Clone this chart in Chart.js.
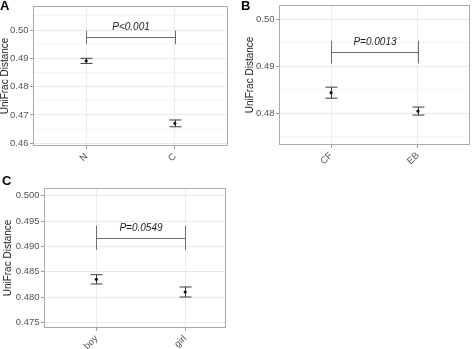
<!DOCTYPE html>
<html>
<head>
<meta charset="utf-8">
<script src="https://cdn.jsdelivr.net/npm/chart.js@4/dist/chart.umd.min.js"></script>
<style>
  html, body { margin: 0; padding: 0; background: #fff; }
  body { width: 474px; height: 349px; position: relative; overflow: hidden;
         font-family: "Liberation Sans", Arial, sans-serif; }
  canvas { position: absolute; }
  .tag { position: absolute; font-weight: bold; font-size: 13px; line-height: 13px; color: #000; z-index: 2; }
</style>
</head>
<body>
<canvas id="panelA" width="232" height="172" style="left:0;top:0"></canvas>
<canvas id="panelB" width="236" height="172" style="left:238px;top:0"></canvas>
<canvas id="panelC" width="232" height="175" style="left:0;top:174px"></canvas>
<div class="tag" style="left:0;top:-1px">A</div>
<div class="tag" style="left:241px;top:-1px">B</div>
<div class="tag" style="left:2px;top:174px">C</div>

<script>
// Panel A: N vs C
const groupsA = ['N', 'C'];
const meanA = [0.4891, 0.4670];
const errA = [0.0009, 0.0012];
const majorTicksA = [0.46, 0.47, 0.48, 0.49, 0.50];
const minorTicksA = [0.465, 0.475, 0.485, 0.495, 0.505];
const pLabelA = 'P<0.001';
const bracketA = 0.4974;

// Panel B: CF vs EB
const groupsB = ['CF', 'EB'];
const meanB = [0.4844, 0.4805];
const errB = [0.00117, 0.00085];
const majorTicksB = [0.48, 0.49, 0.50];
const minorTicksB = [0.475, 0.485, 0.495];
const pLabelB = 'P=0.0013';
const bracketB = 0.4930;

// Panel C: boy vs girl
const groupsC = ['boy', 'girl'];
const meanC = [0.4835, 0.4810];
const errC = [0.00092, 0.00099];
const majorTicksC = [0.475, 0.480, 0.485, 0.490, 0.495, 0.500];
const minorTicksC = [0.4775, 0.4825, 0.4875, 0.4925, 0.4975];
const pLabelC = 'P=0.0549';
const bracketC = 0.4917;

// half-height of the significance bracket end caps, in data units
const bracketSpan = 0.0024;

const FONT = '"Liberation Sans", Arial, sans-serif';

// error bars, significance bracket and panel border
const decorations = {
  id: 'decorations',
  beforeDatasetsDraw(chart, args, opts) {
    const { ctx, scales: { x, y } } = chart;
    ctx.save();
    ctx.lineWidth = 1;

    // mean ± error bars
    ctx.strokeStyle = '#3c3c3c';
    opts.means.forEach((m, i) => {
      const cx = Math.round(x.getPixelForValue(i + 1)) + 0.5;
      const top = y.getPixelForValue(m + opts.errs[i]);
      const bot = y.getPixelForValue(m - opts.errs[i]);
      ctx.beginPath();
      ctx.moveTo(cx, top); ctx.lineTo(cx, bot);
      ctx.moveTo(cx - 6, top); ctx.lineTo(cx + 6, top);
      ctx.moveTo(cx - 6, bot); ctx.lineTo(cx + 6, bot);
      ctx.stroke();
    });

    // bracket between the two groups
    const x1 = Math.round(x.getPixelForValue(1)) + 0.5;
    const x2 = Math.round(x.getPixelForValue(2)) + 0.5;
    const by = Math.round(y.getPixelForValue(opts.bracket)) + 0.5;
    const bTop = y.getPixelForValue(opts.bracket + bracketSpan);
    const bBot = y.getPixelForValue(opts.bracket - bracketSpan);
    ctx.strokeStyle = '#6e6e6e';
    ctx.beginPath();
    ctx.moveTo(x1, by); ctx.lineTo(x2, by);
    ctx.moveTo(x1, bTop); ctx.lineTo(x1, bBot);
    ctx.moveTo(x2, bTop); ctx.lineTo(x2, bBot);
    ctx.stroke();

    ctx.fillStyle = '#1e1e1e';
    ctx.font = 'italic 10px ' + FONT;
    ctx.textAlign = 'center';
    ctx.textBaseline = 'middle';
    ctx.fillText(opts.label, (x1 + x2) / 2, by - 10);
    ctx.restore();
  },
  afterDraw(chart) {
    const { ctx, chartArea: a } = chart;
    ctx.save();
    ctx.strokeStyle = '#ababab';
    ctx.lineWidth = 1;
    ctx.strokeRect(Math.round(a.left) + 0.5, Math.round(a.top) + 0.5,
                   Math.round(a.right - a.left) - 1, Math.round(a.bottom - a.top) - 1);
    ctx.restore();
  }
};

function makePanel(id, groups, means, errs, majors, minors, label, bracket, g) {
  const isMajor = v => majors.some(m => Math.abs(m - v) < 1e-9);
  return new Chart(document.getElementById(id), {
    type: 'scatter',
    data: {
      datasets: [{
        data: means.map((m, i) => ({ x: i + 1, y: m })),
        pointRadius: 1.6,
        pointBackgroundColor: '#111',
        pointBorderWidth: 0
      }]
    },
    options: {
      responsive: false,
      animation: false,
      layout: { padding: { top: g.padTop, right: g.padRight, left: 0, bottom: 0 } },
      plugins: {
        legend: { display: false },
        tooltip: { enabled: false },
        decorations: { means, errs, label, bracket }
      },
      scales: {
        x: {
          type: 'linear',
          min: g.xMin, max: g.xMax,
          afterBuildTicks: s => { s.ticks = groups.map((_, i) => ({ value: i + 1 })); },
          afterFit: s => { s.height = g.xHeight; s.paddingLeft = 0; s.paddingRight = 0; },
          ticks: {
            callback: v => groups[v - 1],
            minRotation: 45, maxRotation: 45,
            padding: 2,
            color: '#555',
            font: { family: FONT, size: 9.5 }
          },
          grid: { color: '#ececec', tickColor: '#9a9a9a', tickLength: 3 },
          border: { display: false }
        },
        y: {
          min: g.yMin, max: g.yMax,
          afterBuildTicks: s => {
            s.ticks = majors.concat(minors).sort((a, b) => a - b).map(v => ({ value: v }));
          },
          afterFit: s => { s.width = g.yWidth; s.paddingTop = 0; s.paddingBottom = 0; },
          ticks: {
            callback: v => isMajor(v) ? v.toFixed(g.digits) : '',
            padding: 1.5,
            color: '#555',
            font: { family: FONT, size: 9.5 }
          },
          grid: {
            color: c => isMajor(c.tick.value) ? '#e9e9e9' : '#f5f5f5',
            tickColor: c => isMajor(c.tick.value) ? '#9a9a9a' : 'rgba(0,0,0,0)',
            tickLength: 3
          },
          border: { display: false },
          title: {
            display: true,
            text: 'UniFrac Distance',
            color: '#1e1e1e',
            font: { family: FONT, size: 10, lineHeight: 1 },
            padding: { top: g.titlePad, bottom: 0 }
          }
        }
      }
    },
    plugins: [decorations]
  });
}

makePanel('panelA', groupsA, meanA, errA, majorTicksA, minorTicksA, pLabelA, bracketA,
  { xMin: 0.4, xMax: 2.6, yMin: 0.459, yMax: 0.5085, yWidth: 33, xHeight: 26,
    padTop: 6, padRight: 4, titlePad: 0, digits: 2 });

makePanel('panelB', groupsB, meanB, errB, majorTicksB, minorTicksB, pLabelB, bracketB,
  { xMin: 0.4, xMax: 2.6, yMin: 0.4733, yMax: 0.5030, yWidth: 41, xHeight: 27,
    padTop: 5, padRight: 0, titlePad: 7, digits: 2 });

makePanel('panelC', groupsC, meanC, errC, majorTicksC, minorTicksC, pLabelC, bracketC,
  { xMin: 0.41, xMax: 2.46, yMin: 0.4739, yMax: 0.50152, yWidth: 44, xHeight: 21,
    padTop: 14, padRight: 6, titlePad: 3, digits: 3 });
</script>
</body>
</html>
